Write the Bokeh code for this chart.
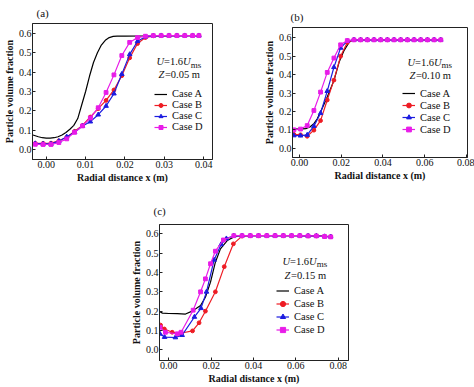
from bokeh.plotting import figure
from bokeh.models import (FixedTicker, PrintfTickFormatter, Legend, LegendItem,
                          Label, Range1d, Spacer)
from bokeh.layouts import row, column
from bokeh.embed import file_html
from bokeh.resources import INLINE

# ---------------- data ----------------
cases = ["Case A", "Case B", "Case C", "Case D"]
colors = ["#000000", "#ee1c24", "#1c1ce0", "#e81ce8"]
markers = [None, "circle", "triangle", "square"]

y_ticks = [0.0, 0.1, 0.2, 0.3, 0.4, 0.5, 0.6]
x_ticks_a = [0.00, 0.01, 0.02, 0.03, 0.04]
x_ticks_bc = [0.00, 0.02, 0.04, 0.06, 0.08]

# panel (a)  Z = 0.05 m
xa_A = [-0.0034, -0.002, -0.001, 0.000, 0.001, 0.002, 0.003, 0.004, 0.005, 0.006, 0.007,
        0.008, 0.009, 0.010, 0.011, 0.012, 0.013, 0.014, 0.015, 0.016, 0.017, 0.018,
        0.020, 0.025, 0.030, 0.035, 0.0388]
ya_A = [0.075, 0.066, 0.061, 0.059, 0.059, 0.061, 0.066, 0.075, 0.088, 0.105, 0.125,
        0.160, 0.230, 0.300, 0.380, 0.450, 0.500, 0.540, 0.565, 0.579, 0.585, 0.586,
        0.586, 0.587, 0.588, 0.589, 0.589]
xa = [-0.0028, -0.0008, 0.0012, 0.0032, 0.0052, 0.0072, 0.0092, 0.0112, 0.0132, 0.0152,
      0.0172, 0.0192, 0.0212, 0.0232, 0.0252, 0.0272, 0.0292, 0.0312, 0.0332, 0.0352,
      0.0372, 0.0388]
ya_B = [0.032, 0.032, 0.033, 0.045, 0.063, 0.094, 0.124, 0.168, 0.211, 0.254, 0.308,
        0.382, 0.474, 0.548, 0.579, 0.588, 0.589, 0.589, 0.589, 0.589, 0.589, 0.589]
ya_C = [0.031, 0.029, 0.029, 0.043, 0.066, 0.089, 0.122, 0.144, 0.180, 0.225, 0.289,
        0.390, 0.492, 0.560, 0.583, 0.588, 0.589, 0.589, 0.589, 0.589, 0.589, 0.589]
ya_D = [0.027, 0.026, 0.026, 0.036, 0.055, 0.089, 0.122, 0.163, 0.216, 0.295, 0.386,
        0.486, 0.554, 0.579, 0.586, 0.589, 0.589, 0.589, 0.589, 0.589, 0.589, 0.589]

# panel (b)  Z = 0.10 m
xb_A = [-0.0033, 0.000, 0.003, 0.005, 0.007, 0.0085, 0.011, 0.0133, 0.0165, 0.019,
        0.0214, 0.0238, 0.0254, 0.030, 0.040, 0.050, 0.060, 0.0677]
yb_A = [0.105, 0.104, 0.106, 0.115, 0.135, 0.160, 0.220, 0.278, 0.368, 0.468,
        0.532, 0.576, 0.589, 0.589, 0.589, 0.589, 0.589, 0.589]
xb = [-0.0027, 0.0005, 0.0037, 0.0069, 0.0101, 0.0133, 0.0165, 0.0197, 0.0229, 0.0261,
      0.0293, 0.0325, 0.0357, 0.0389, 0.0421, 0.0453, 0.0485, 0.0517, 0.0549, 0.0581,
      0.0613, 0.0645, 0.0677]
yb_B = [0.075, 0.073, 0.065, 0.098, 0.150, 0.262, 0.370, 0.500, 0.575, 0.589, 0.589,
        0.589, 0.589, 0.589, 0.589, 0.589, 0.589, 0.589, 0.589, 0.589, 0.589, 0.589, 0.589]
yb_C = [0.069, 0.068, 0.072, 0.120, 0.190, 0.310, 0.440, 0.545, 0.582, 0.589, 0.589,
        0.589, 0.589, 0.589, 0.589, 0.589, 0.589, 0.589, 0.589, 0.589, 0.589, 0.589, 0.589]
yb_D = [0.100, 0.104, 0.123, 0.205, 0.305, 0.412, 0.490, 0.562, 0.585, 0.589, 0.589,
        0.589, 0.589, 0.589, 0.589, 0.589, 0.589, 0.589, 0.589, 0.589, 0.589, 0.589, 0.589]

# panel (c)  Z = 0.15 m
xc_A = [-0.0044, -0.003, 0.000, 0.004, 0.0079, 0.011, 0.015, 0.0173, 0.0197, 0.022,
        0.0244, 0.0276, 0.0315, 0.035, 0.040, 0.050, 0.060, 0.070, 0.0765]
yc_A = [0.198, 0.190, 0.188, 0.187, 0.185, 0.200, 0.229, 0.272, 0.350, 0.453,
        0.522, 0.565, 0.588, 0.590, 0.590, 0.590, 0.590, 0.589, 0.586]
xc_B = [-0.0039, -0.0021, 0.0016, 0.0055, 0.0112, 0.0143, 0.0173, 0.0220, 0.0262, 0.0305,
        0.0346, 0.0385, 0.0424, 0.0463, 0.0502, 0.0541, 0.0580, 0.0619, 0.0658, 0.0697,
        0.0736, 0.0765]
yc_B = [0.128, 0.108, 0.091, 0.086, 0.098, 0.140, 0.200, 0.300, 0.430, 0.548,
        0.588, 0.590, 0.590, 0.590, 0.590, 0.590, 0.590, 0.590, 0.589, 0.589,
        0.586, 0.585]
xc_C = [-0.0042, -0.0020, 0.0031, 0.0063, 0.0121, 0.0152, 0.0178, 0.0214, 0.0247, 0.0272,
        0.0307, 0.0346, 0.0385, 0.0424, 0.0463, 0.0502, 0.0541, 0.0580, 0.0619, 0.0658,
        0.0697, 0.0736, 0.0765]
yc_C = [0.083, 0.066, 0.064, 0.076, 0.170, 0.215, 0.300, 0.465, 0.545, 0.575,
        0.590, 0.590, 0.590, 0.590, 0.590, 0.590, 0.590, 0.590, 0.590, 0.589,
        0.589, 0.586, 0.585]
xc_D = [-0.0042, -0.0016, 0.0040, 0.0058, 0.0115, 0.0150, 0.0173, 0.0197, 0.0220, 0.0258,
        0.0307, 0.0346, 0.0385, 0.0424, 0.0463, 0.0502, 0.0541, 0.0580, 0.0619, 0.0658,
        0.0697, 0.0736, 0.0765]
yc_D = [0.117, 0.091, 0.083, 0.091, 0.205, 0.300, 0.367, 0.445, 0.510, 0.568,
        0.590, 0.590, 0.590, 0.590, 0.590, 0.590, 0.590, 0.590, 0.590, 0.589,
        0.589, 0.586, 0.584]

FONT = "Liberation Serif"


def panel(tag, zlabel, width, height, borders, xr, yr, xticks, series,
          note_xy, leg_loc, leg_rowh, title_offset, title_standoff):
    bl, br, bt, bb = borders
    p = figure(width=width, height=height, output_backend="svg", toolbar_location=None,
               x_range=Range1d(*xr), y_range=Range1d(*yr),
               min_border_left=bl, min_border_right=br, min_border_top=bt,
               min_border_bottom=bb, background_fill_color="white",
               border_fill_color="white")
    p.grid.visible = False
    p.outline_line_color = "#222222"
    p.outline_line_width = 1
    p.title.text = tag
    p.title.text_font = FONT
    p.title.text_font_size = "11px"
    p.title.text_font_style = "normal"
    p.title.text_color = "#111111"
    p.title.align = "left"
    p.title.offset = title_offset
    p.title.standoff = title_standoff
    p.xaxis.ticker = FixedTicker(ticks=xticks)
    p.yaxis.ticker = FixedTicker(ticks=y_ticks)
    p.xaxis.formatter = PrintfTickFormatter(format="%.2f")
    p.yaxis.formatter = PrintfTickFormatter(format="%.1f")
    p.xaxis.axis_label = "Radial distance x (m)"
    p.yaxis.axis_label = "Particle volume fraction"
    for ax in (p.xaxis[0], p.yaxis[0]):
        ax.axis_line_color = "#222222"
        ax.major_tick_in = 3
        ax.major_tick_out = 0
        ax.major_tick_line_color = "#222222"
        ax.minor_tick_line_color = None
        ax.major_label_text_font = FONT
        ax.major_label_text_font_size = "10px"
        ax.major_label_text_color = "#111111"
        ax.major_label_standoff = 1
        ax.axis_label_text_font = FONT
        ax.axis_label_text_font_size = "10px"
        ax.axis_label_text_font_style = "bold"
        ax.axis_label_text_color = "#111111"
        ax.axis_label_standoff = 1

    items = []
    for (xs, ys), name, col, mk in zip(series, cases, colors, markers):
        rends = [p.line(xs, ys, line_color=col, line_width=1.2)]
        if mk is not None:
            size = 4.6 if mk == "triangle" else 3.8
            rends.append(p.scatter(xs, ys, marker=mk, size=size, fill_color=col,
                                   line_color=col))
        items.append(LegendItem(label=name, renderers=rends))
    leg = Legend(items=items, location=leg_loc, background_fill_alpha=0,
                 border_line_alpha=0, padding=0, margin=0, spacing=0,
                 label_height=leg_rowh, glyph_height=leg_rowh, glyph_width=13,
                 label_standoff=5, label_text_font=FONT, label_text_font_size="10.5px",
                 label_text_color="#111111")
    p.add_layout(leg)

    nx, ny1, ny2 = note_xy
    parts = [("U", "italic", "10.5px", 0, 0), ("=1.6", "normal", "10.5px", 7.6, 0),
             ("U", "italic", "10.5px", 26.5, 0), ("ms", "normal", "9px", 34.2, -3)]
    for txt, style, fs, dx, dy in parts:
        p.add_layout(Label(x=nx, y=ny1, text=txt, x_offset=dx, y_offset=dy,
                           text_font=FONT, text_font_style=style, text_font_size=fs,
                           text_baseline="middle", text_color="#111111"))
    p.add_layout(Label(x=nx, y=ny2, text="Z", x_offset=2, text_font=FONT,
                       text_font_style="italic", text_font_size="10.5px",
                       text_baseline="middle", text_color="#111111"))
    p.add_layout(Label(x=nx, y=ny2, text=zlabel, x_offset=8.5, text_font=FONT,
                       text_font_size="10.5px", text_baseline="middle",
                       text_color="#111111"))
    return p


pa = panel("(a)", "=0.05 m", 240, 190, (29, 28, 23, 31), (-0.0035, 0.04225),
           (-0.0517, 0.6517), x_ticks_a,
           [(xa_A, ya_A), (xa, ya_B), (xa, ya_C), (xa, ya_D)],
           (0.028, 0.455, 0.388), (122, 27), 10, 4, 9)
pb = panel("(b)", "=0.10 m", 234, 184, (52, 7, 23, 31), (-0.00335, 0.0805),
           (-0.0505, 0.656), x_ticks_bc,
           [(xb_A, yb_A), (xb, yb_B), (xb, yb_C), (xb, yb_D)],
           (0.0517, 0.466, 0.395), (110, 22), 12, -2, 9)
pc = panel("(c)", "=0.15 m", 280, 197, (59, 32, 34, 27), (-0.0044, 0.0849),
           (-0.055, 0.648), x_ticks_bc,
           [(xc_A, yc_A), (xc_B, yc_B), (xc_C, yc_C), (xc_D, yc_D)],
           (0.0537, 0.457, 0.384), (117, 24), 13, -6, 15)

layout = column(row(pa, column(Spacer(width=234, height=4), pb)),
                row(Spacer(width=100, height=197), pc))

open("out.html", "w").write(file_html(layout, INLINE))
